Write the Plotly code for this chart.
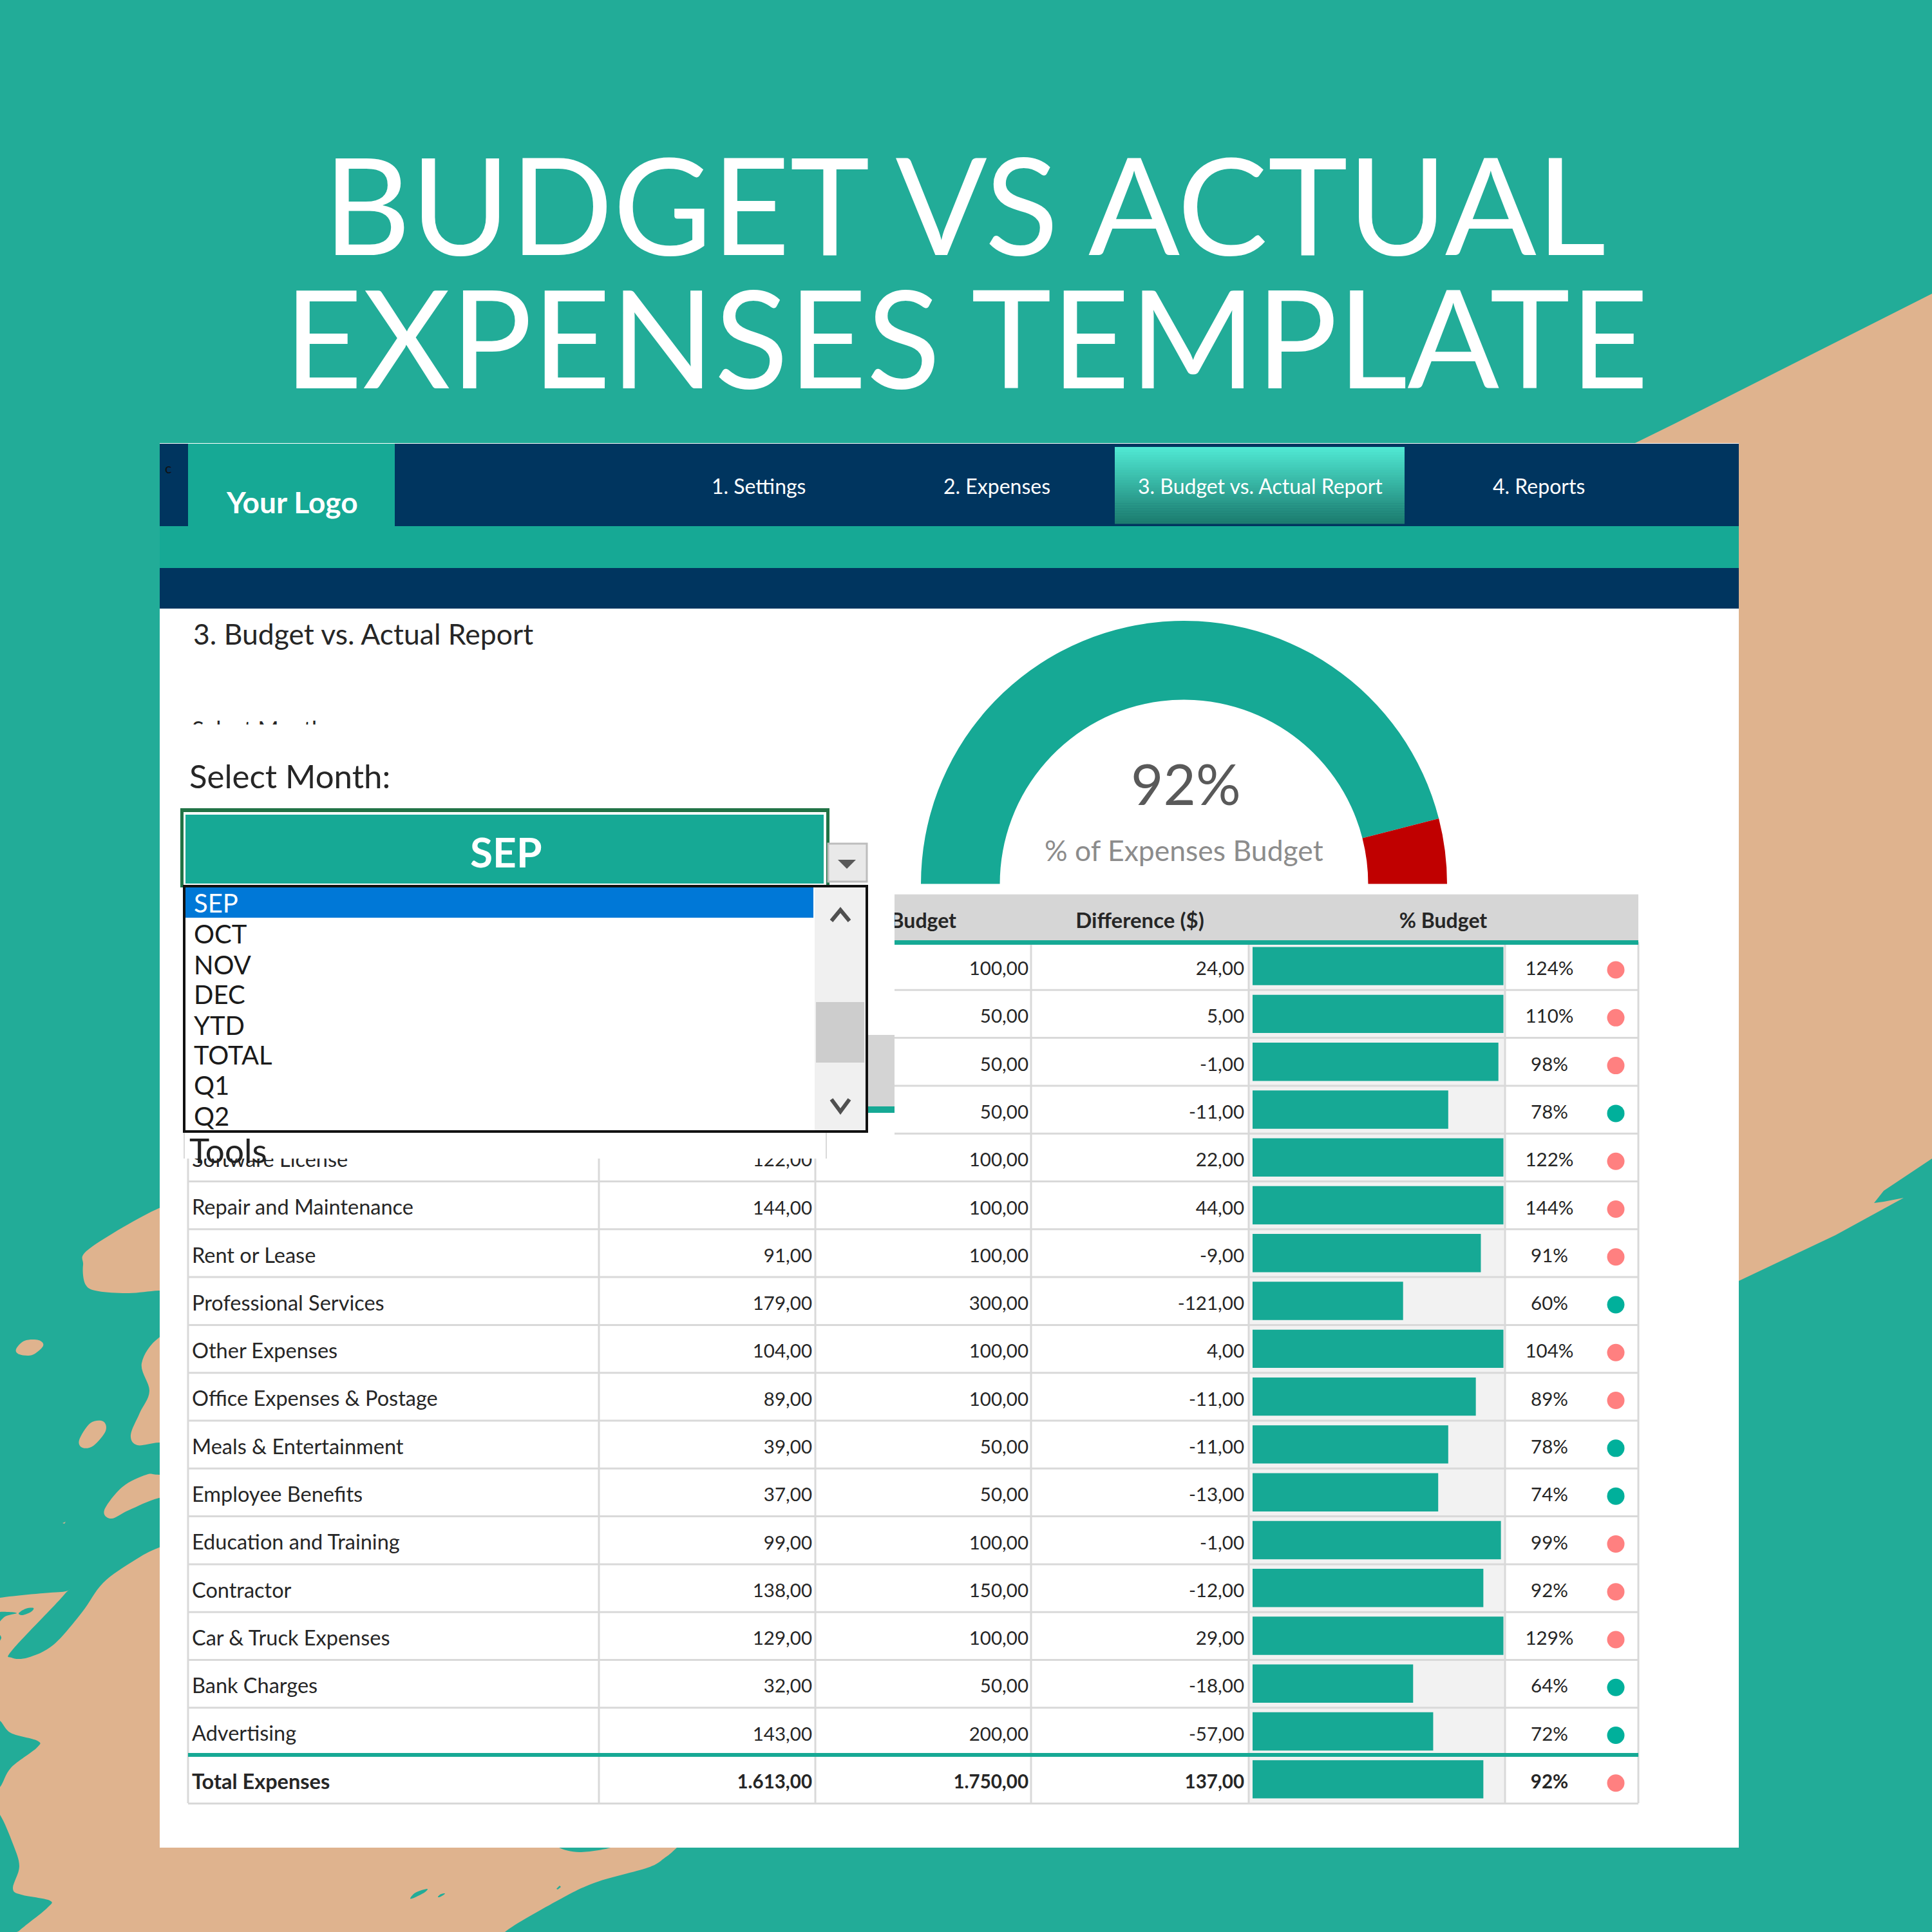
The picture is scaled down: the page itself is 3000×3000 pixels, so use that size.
import plotly.graph_objects as go

# ---------- data ----------
TITLE_LINES = ["BUDGET VS ACTUAL", "EXPENSES TEMPLATE"]
NAV_TABS = ["1. Settings", "2. Expenses", "3. Budget vs. Actual Report", "4. Reports"]
MONTH_OPTIONS = ["SEP", "OCT", "NOV", "DEC", "YTD", "TOTAL", "Q1", "Q2"]
HEADERS = ["Budget", "Difference ($)", "% Budget"]
# the first four row names and actual values are hidden by the open dropdown
ROW_LABELS = [None, None, None, None, "Software License", "Repair and Maintenance", "Rent or Lease",
              "Professional Services", "Other Expenses", "Office Expenses & Postage",
              "Meals & Entertainment", "Employee Benefits", "Education and Training", "Contractor",
              "Car & Truck Expenses", "Bank Charges", "Advertising", "Total Expenses"]
ACTUAL = [None, None, None, None, 122, 144, 91, 179, 104, 89, 39, 37, 99, 138, 129, 32, 143, 1613]
BUDGET = [100, 50, 50, 50, 100, 100, 100, 300, 100, 100, 50, 50, 100, 150, 100, 50, 200, 1750]
DIFFERENCE = [24, 5, -1, -11, 22, 44, -9, -121, 4, -11, -11, -13, -1, -12, 29, -18, -57, 137]
PCT_BUDGET = [124, 110, 98, 78, 122, 144, 91, 60, 104, 89, 78, 74, 99, 92, 129, 64, 72, 92]
OVER_LIMIT = [1, 1, 1, 0, 1, 1, 1, 0, 1, 1, 0, 0, 1, 1, 1, 0, 0, 1]
GAUGE_VALUES = [92, 8, 100]

# ---------- styles ----------
BG = "#22AC98"; TAN = "#DFB38E"; TEAL = "#16A995"; NAVY = "#00355F"
GRID = "#D9D9D9"; INK = "#262626"; CORAL = "#FF8080"; DOT_TEAL = "#00B09B"
BODY = "Lato"
S = 3000.0


def fx(x):
    return x / S


def fy(y):
    return 1 - y / S


shapes = []


def rect(x0, y0, x1, y1, fill, layer="below", line=None, lw=0):
    shapes.append(dict(type="rect", xref="paper", yref="paper", x0=fx(x0), x1=fx(x1), y0=fy(y0), y1=fy(y1),
                       fillcolor=fill, layer=layer, line=dict(width=lw, color=line or fill)))


def seg(x0, y0, x1, y1, color=GRID, w=3, layer="below"):
    shapes.append(dict(type="line", xref="paper", yref="paper", x0=fx(x0), x1=fx(x1), y0=fy(y0), y1=fy(y1),
                       layer=layer, line=dict(width=w, color=color)))


def poly(pts, fill=None, layer="below", smooth=False, closed=True, stroke=None, w=0):
    P = [(fx(x), fy(y)) for x, y in pts]
    d = f"M{P[0][0]:.5f},{P[0][1]:.5f}"
    n = len(P)
    if smooth:
        for i in range(n):
            p0, p1, p2, p3 = P[(i - 1) % n], P[i], P[(i + 1) % n], P[(i + 2) % n]
            c1 = (p1[0] + (p2[0] - p0[0]) / 6, p1[1] + (p2[1] - p0[1]) / 6)
            c2 = (p2[0] - (p3[0] - p1[0]) / 6, p2[1] - (p3[1] - p1[1]) / 6)
            d += f" C{c1[0]:.5f},{c1[1]:.5f} {c2[0]:.5f},{c2[1]:.5f} {p2[0]:.5f},{p2[1]:.5f}"
    else:
        d += "".join(f" L{x:.5f},{y:.5f}" for x, y in P[1:])
    if closed:
        d += " Z"
    shapes.append(dict(type="path", xref="paper", yref="paper", path=d, layer=layer,
                       fillcolor=fill if fill else "rgba(0,0,0,0)",
                       line=dict(width=w, color=stroke or "rgba(0,0,0,0)")))


# ---------- background paint splashes ----------
poly([(2480, 760), (2539, 688), (2600, 658), (3010, 451), (3010, 1793), (3000, 1799), (2925, 1849),
      (2910, 1868), (2925, 1866), (2956, 1860), (2850, 1918), (2700, 1989), (2500, 2030)], TAN)
poly([(300, 2390), (247, 2403), (207, 2424), (160, 2458), (127, 2504), (83, 2554), (43, 2574), (18, 2574),
      (20, 2561), (99, 2477), (95, 2472), (0, 2481), (-20, 2490), (-20, 2660), (0, 2672), (17, 2691),
      (58, 2703), (57, 2714), (17, 2745), (0, 2775), (-20, 2790), (-20, 2800), (0, 2818), (20, 2863),
      (30, 2898), (20, 2932), (33, 2942), (77, 2951), (73, 2963), (30, 2998), (10, 3020), (784, 3020),
      (784, 3000), (868, 2950), (925, 2923), (1006, 2900), (1032, 2885), (1051, 2869), (1100, 2820),
      (700, 2700)], TAN, smooth=True)
poly([(300, 1870), (247, 1876), (140, 1938), (129, 1964), (133, 1995), (153, 2005), (200, 2008), (247, 2004),
      (300, 2004)], TAN, smooth=True)
poly([(300, 2060), (247, 2077), (220, 2117), (232, 2160), (217, 2194), (203, 2228), (213, 2244), (247, 2240),
      (300, 2240)], TAN, smooth=True)
poly([(300, 2290), (247, 2290), (227, 2290), (190, 2309), (162, 2345), (173, 2358), (200, 2345), (247, 2326),
      (300, 2320)], TAN, smooth=True)
poly([(25, 2095), (38, 2082), (60, 2081), (67, 2090), (50, 2104), (30, 2103)], TAN, smooth=True)
poly([(123, 2236), (140, 2210), (160, 2207), (164, 2222), (145, 2245), (128, 2248)], TAN, smooth=True)
poly([(97, 2365), (102, 2363), (100, 2366)], TAN)
poly([(-5, 2505), (12, 2503), (26, 2505), (8, 2510), (-5, 2522)], BG, smooth=True)
poly([(29, 2505), (40, 2498), (52, 2497), (48, 2503), (35, 2508)], BG, smooth=True)
poly([(-5, 2535), (2, 2543), (-5, 2552)], BG, smooth=True)
poly([(868, 2860), (868, 2869), (900, 2876), (948, 2869), (948, 2860)], BG, smooth=True)
poly([(637, 2948), (645, 2939), (663, 2933), (660, 2938), (645, 2946)], BG, smooth=True)
poly([(680, 2945), (685, 2941), (691, 2940), (688, 2943), (682, 2946)], BG, smooth=True)
poly([(864, 2933), (869, 2928), (871, 2930), (866, 2934)], BG)

# ---------- report card ----------
rect(248, 688, 2700, 2869, "white")
rect(248, 689, 2700, 817, NAVY)
rect(292, 689, 613, 817, TEAL)
rect(248, 817, 2700, 882, TEAL)
rect(248, 882, 2700, 945, NAVY)
TAB_STEPS = 30
for i in range(TAB_STEPS):
    t = i / (TAB_STEPS - 1)
    c = (int(80 + (28 - 80) * t), int(232 + (125 - 232) * t), int(211 + (112 - 211) * t))
    y0 = 694 + (813 - 694) * i / TAB_STEPS
    y1 = 694 + (813 - 694) * (i + 1) / TAB_STEPS + 0.6
    rect(1731, y0, 2181, y1, f"rgb({c[0]},{c[1]},{c[2]})")

# ---------- table frame ----------
ROW_H = 74.3
TABLE_TOP = 1388.7
TABLE_BOTTOM = 2800.0
COL_LINES = [292, 930, 1266, 1601, 1939, 2337, 2544]
rect(1939, 1463, 2337, TABLE_BOTTOM, "#F2F2F2")
rect(292, TABLE_TOP, 2544, 1463, "#D6D6D6")
for k in range(1, 20):
    seg(292, TABLE_TOP + ROW_H * k, 2544, TABLE_TOP + ROW_H * k)
for cx in COL_LINES:
    seg(cx, 1463, cx, TABLE_BOTTOM)
rect(292, 1460, 2544, 1467, TEAL)
rect(292, 2722, 2544, 2728, TEAL)

# ---------- dropdown overlay (covers the table's hidden part) ----------
A = "above"
rect(262, 1125, 1389, 1799, "white", A)
seg(286, 1757, 286, 1799, GRID, 2, A)
seg(1283, 1757, 1283, 1799, GRID, 2, A)
rect(1346, 1607, 1389, 1718, "#D4D4D4", A)
rect(1346, 1718, 1389, 1728, TEAL, A)
rect(280, 1255, 1288, 1378, "#217346", A)
rect(285, 1261, 1283, 1376, "white", A)
rect(288, 1265, 1279, 1372, TEAL, A)
rect(1286, 1310, 1346, 1369, "#E9E9E9", A, "#BDBDBD", 3)
poly([(1301, 1335), (1329, 1335), (1315, 1349)], "#595959", A)
rect(286, 1376, 1346, 1757, "white", A, "#111111", 4)
rect(288, 1378, 1263, 1425, "#0078D7", A)
rect(1265, 1378, 1344, 1755, "#F0F0F0", A)
rect(1267, 1556, 1342, 1650, "#CDCDCD", A)
poly([(1291, 1430), (1305, 1413), (1319, 1430)], None, A, closed=False, stroke="#505050", w=6)
poly([(1291, 1707), (1305, 1726), (1319, 1707)], None, A, closed=False, stroke="#505050", w=6)

# ---------- annotations ----------
annotations = []


def note(text, x, y, size, color=INK, family=BODY, anchor="center"):
    annotations.append(dict(text=text, xref="paper", yref="paper", x=fx(x), y=fy(y), showarrow=False,
                            xanchor=anchor, yanchor="middle", font=dict(size=size, color=color, family=family)))


note(TITLE_LINES[0], 1498, 315, 210, "white")
note(TITLE_LINES[1], 1500, 522, 211, "white")
note("c", 261, 727, 22, "#111111")
note("<b>Your Logo</b>", 453, 779, 46, "white")
for label, cx in zip(NAV_TABS, [1178, 1548, 1957, 2389]):
    note(label, cx, 754, 32, "white")
note("3. Budget vs. Actual Report", 298, 983, 44.5, INK, anchor="left")
note("Select Month:", 292, 1205, 51, INK, anchor="left")
note("<b>SEP</b>", 786, 1322, 64, "white")
for i, (opt, cy) in enumerate(zip(MONTH_OPTIONS, [1402, 1450, 1498, 1544, 1592, 1638, 1685, 1733])):
    note(opt, 299, cy, 40, "white" if i == 0 else "#1A1A1A", anchor="left")
note("Tools", 292, 1785, 53, "#222222", anchor="left")
note("92%", 1841, 1217, 87, "#595959")
note("% of Expenses Budget", 1838, 1319, 44.5, "#8C8C8C")

# ---------- figure ----------
fig = go.Figure()


def money(v):
    return f"{v:,.2f}".replace(",", "#").replace(".", ",").replace("#", ".")


rows = list(range(len(BUDGET)))
LABEL_X, ACTUAL_X, BUDGET_X, DIFF_X, PCT_X, DOT_X = 298, 1261, 1597, 1932, 2406, 2509
TEXT_DY, DOT_DY = 0.09, 0.08   # glyphs sit slightly under the row centre


def bold_last(t, i):
    return f"<b>{t}</b>" if i == len(rows) - 1 else t


fig.add_trace(go.Bar(x=PCT_BUDGET, y=rows, orientation="h", width=0.8, marker=dict(color=TEAL, line=dict(width=0)),
                     xaxis="x", yaxis="y", showlegend=False, hoverinfo="skip"))


def text_col(xpos, ys, texts, pos, size=29.5):
    fig.add_trace(go.Scatter(x=[xpos] * len(ys), y=[v + TEXT_DY for v in ys], text=texts, mode="text", textposition=pos,
                             textfont=dict(family=BODY, size=size, color=INK), xaxis="x2", yaxis="y",
                             showlegend=False, hoverinfo="skip"))


idx = [i for i in rows if ROW_LABELS[i] is not None]
text_col(LABEL_X, idx, [bold_last(ROW_LABELS[i], i) for i in idx], "middle right", 32.5)
text_col(ACTUAL_X, idx, [bold_last(money(ACTUAL[i]), i) for i in idx], "middle left")
text_col(BUDGET_X, rows, [bold_last(money(v), i) for i, v in enumerate(BUDGET)], "middle left")
text_col(DIFF_X, rows, [bold_last(money(v), i) for i, v in enumerate(DIFFERENCE)], "middle left")
text_col(PCT_X, rows, [bold_last(f"{v}%", i) for i, v in enumerate(PCT_BUDGET)], "middle center")
text_col(1485, [-1], [f"<b>{HEADERS[0]}</b>"], "middle left", 32)
text_col(1770, [-1], [f"<b>{HEADERS[1]}</b>"], "middle center", 33)
text_col(2241, [-1], [f"<b>{HEADERS[2]}</b>"], "middle center", 32)
fig.add_trace(go.Scatter(x=[DOT_X] * len(rows), y=[i + DOT_DY for i in rows], mode="markers",
                         marker=dict(size=27, color=[CORAL if f else DOT_TEAL for f in OVER_LIMIT], line=dict(width=0)),
                         xaxis="x2", yaxis="y", showlegend=False, hoverinfo="skip"))
# sliver of a label showing above the pasted selector
fig.add_trace(go.Scatter(x=[298], y=[1136], text=["Select Month:"], mode="text", textposition="middle right",
                         textfont=dict(family=BODY, size=35, color=INK), xaxis="x2", yaxis="y2",
                         showlegend=False, hoverinfo="skip"))

fig.add_trace(go.Pie(values=GAUGE_VALUES, sort=False, direction="clockwise", rotation=-90, hole=0.70,
                     marker=dict(colors=[TEAL, "#C00000", "rgba(0,0,0,0)"], line=dict(width=0)),
                     textinfo="none", hoverinfo="skip", showlegend=False,
                     domain=dict(x=[fx(1430), fx(2247)], y=[fy(1781), fy(964)])))

hidden = dict(visible=False, showgrid=False, zeroline=False, fixedrange=True)
fig.update_layout(
    width=3000, height=3000, margin=dict(l=0, r=0, t=0, b=0), autosize=False,
    paper_bgcolor=BG, plot_bgcolor="rgba(0,0,0,0)", showlegend=False, barmode="overlay",
    font=dict(family=BODY),
    xaxis=dict(domain=[fx(1945), fx(2334.5)], range=[0, 100], anchor="y", **hidden),
    yaxis=dict(domain=[fy(TABLE_BOTTOM), fy(TABLE_TOP)], range=[17.5, -1.5], anchor="x", **hidden),
    xaxis2=dict(domain=[0, 1], range=[0, 3000], anchor="y2", **hidden),
    yaxis2=dict(domain=[0, 1], range=[3000, 0], anchor="x2", **hidden),
    shapes=shapes, annotations=annotations,
)
fig.write_html("out.html", config=dict(displayModeBar=False),
               post_script="document.body.style.margin='0';document.body.style.background='white';")
